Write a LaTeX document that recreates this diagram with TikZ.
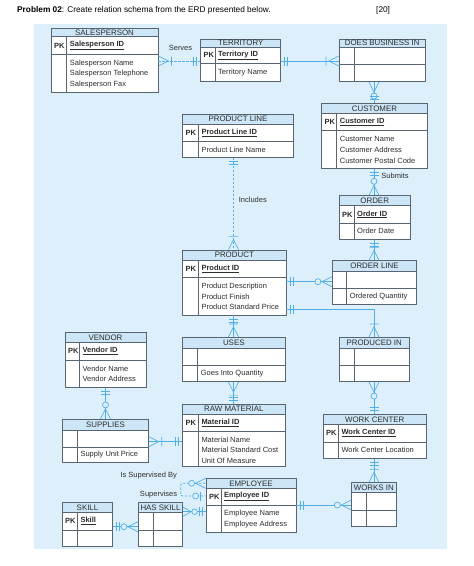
\documentclass[tikz,border=0pt]{standalone}
\usepackage{fontspec}
\setmainfont{Liberation Sans}
\usetikzlibrary{fit}
\definecolor{bgc}{RGB}{221,239,250}
\definecolor{hdrc}{RGB}{204,230,247}
\definecolor{bordc}{RGB}{88,100,112}
\definecolor{relc}{RGB}{80,175,230}
\definecolor{txtc}{RGB}{45,45,45}
\tikzset{
  rel/.style={draw=relc, line width=0.7pt},
  dsh/.style={dash pattern=on 2.5pt off 1.5pt},
  edgeline/.style={draw=bordc, line width=0.6pt},
  boxnode/.style={draw=bordc, line width=0.8pt, inner sep=0pt},
  txt/.style={text=txtc, inner sep=0pt, font=\fontsize{7.5}{10.6}\selectfont},
  ttl/.style={text=black, inner sep=0pt, anchor=west, font=\fontsize{8.3}{10}\selectfont},
  hd/.style={txt, anchor=center, font=\fontsize{7.9}{10}\selectfont},
  lft/.style={txt, anchor=west, align=left},
  pk/.style={txt, anchor=west, font=\fontsize{7.5}{10.6}\selectfont\bfseries},
  lbl/.style={txt},
  one/.pic={\draw[rel] (3.5,-4.5) -- (3.5,4.5) (6.5,-4.5) -- (6.5,4.5);},
  onemany/.pic={\draw[rel] (0,-5) -- (10,0) -- (0,5) (13,-4.5) -- (13,4.5);},
  zeromany/.pic={\draw[rel] (0,-5) -- (10,0) -- (0,5); \draw[rel, fill=bgc] (14,0) circle (3);},
  zeromanyS/.pic={\draw[rel] (0,-4.5) -- (8,0) -- (0,4.5); \draw[rel, fill=bgc] (11.5,0) circle (2.8);},
  zeroone/.pic={\draw[rel] (5,-4.5) -- (5,4.5); \draw[rel, fill=bgc] (10,0) circle (3);}
}
\newcommand{\frm}[8]{%
  \fill[white] (#2,#3) rectangle (#4,#5);
  \fill[hdrc] (#2,#3) rectangle (#4,#6);
  \draw[edgeline] (#2,#6) -- (#4,#6) (#2,#7) -- (#4,#7) (#8,#6) -- (#8,#5);
  \node[boxnode, fit={(#2,#3) (#4,#5)}] (#1) {};
}
\begin{document}
\begin{tikzpicture}[x=1pt,y=-1pt]
\useasboundingbox (0,0) rectangle (474,566);
\fill[bgc] (34,23.5) rectangle (446.7,549.3);
\node[ttl] (title) at (17,10) {\textbf{Problem 02}: Create relation schema from the ERD presented below.};
\node[ttl] (marks) at (376,10) {[20]};

% SALESPERSON
\frm{sp}{51}{28.3}{158}{92.3}{36.7}{54.3}{66.7}
\node[hd] (sp-h) at (104.5,32.5) {SALESPERSON};
\node[pk] (sp-pk) at (54,45.5) {PK};
\node[pk] (sp-id) at (69.7,45.5) {\underline{Salesperson ID}};
\node[lft] (sp-at) at (69.7,73.8) {Salesperson Name\\Salesperson Telephone\\Salesperson Fax};
% TERRITORY
\frm{ter}{200.7}{39}{280.7}{81.7}{47.3}{63.3}{215}
\node[hd] (ter-h) at (240.7,43.2) {TERRITORY};
\node[pk] (ter-pk) at (203.5,55.3) {PK};
\node[pk] (ter-id) at (218,55.3) {\underline{Territory ID}};
\node[lft] (ter-at) at (218,72.5) {Territory Name};
% DOES BUSINESS IN
\frm{dbi}{339.3}{39}{425}{81.7}{47.3}{64.3}{354}
\node[hd] (dbi-h) at (382.2,43.2) {DOES BUSINESS IN};
% CUSTOMER
\frm{cus}{321.7}{103.3}{427.3}{168.3}{113.3}{130.7}{336.7}
\node[hd] (cus-h) at (374.5,108.3) {CUSTOMER};
\node[pk] (cus-pk) at (324.5,122) {PK};
\node[pk] (cus-id) at (339.7,122) {\underline{Customer ID}};
\node[lft] (cus-at) at (339.7,150) {Customer Name\\Customer Address\\Customer Postal Code};
% PRODUCT LINE
\frm{pl}{182.7}{114}{293.3}{157.3}{124}{141.7}{198.3}
\node[hd] (pl-h) at (238,119) {PRODUCT LINE};
\node[pk] (pl-pk) at (185.5,132.8) {PK};
\node[pk] (pl-id) at (201.3,132.8) {\underline{Product Line ID}};
\node[lft] (pl-at) at (201.3,149.5) {Product Line Name};
% ORDER
\frm{ord}{339.3}{195.7}{410}{239.3}{205.7}{223.3}{354}
\node[hd] (ord-h) at (374.7,200.7) {ORDER};
\node[pk] (ord-pk) at (342,214.5) {PK};
\node[pk] (ord-id) at (357,214.5) {\underline{Order ID}};
\node[lft] (ord-at) at (357,231.3) {Order Date};
% PRODUCT
\frm{prd}{182.7}{250}{286}{315}{260}{277.7}{198.3}
\node[hd] (prd-h) at (234.3,255) {PRODUCT};
\node[pk] (prd-pk) at (185.5,268.8) {PK};
\node[pk] (prd-id) at (201.3,268.8) {\underline{Product ID}};
\node[lft] (prd-at) at (201.3,296.5) {Product Description\\Product Finish\\Product Standard Price};
% ORDER LINE
\frm{ol}{332.3}{260.7}{416.7}{304.3}{271.3}{288.3}{346.7}
\node[hd] (ol-h) at (374.5,266) {ORDER LINE};
\node[lft] (ol-at) at (349.7,296.3) {Ordered Quantity};
% VENDOR
\frm{ven}{65}{332.3}{146}{387.3}{342.3}{360}{79.3}
\node[hd] (ven-h) at (105.5,337.3) {VENDOR};
\node[pk] (ven-pk) at (67.8,351.2) {PK};
\node[pk] (ven-id) at (82.3,351.2) {\underline{Vendor ID}};
\node[lft] (ven-at) at (82.3,373.8) {Vendor Name\\Vendor Address};
% USES
\frm{uses}{182.7}{337.3}{285}{381.7}{348.3}{365.7}{197.7}
\node[hd] (uses-h) at (233.8,342.8) {USES};
\node[lft] (uses-at) at (200.7,373.7) {Goes Into Quantity};
% PRODUCED IN
\frm{pin}{339}{337.3}{409.3}{381.7}{348.3}{365.7}{354.3}
\node[hd] (pin-h) at (374.2,342.8) {PRODUCED IN};
% SUPPLIES
\frm{sup}{62.7}{419.3}{148.3}{462.7}{430}{447.3}{77.3}
\node[hd] (sup-h) at (105.5,424.7) {SUPPLIES};
\node[lft] (sup-at) at (80.3,455) {Supply Unit Price};
% RAW MATERIAL
\frm{raw}{182.7}{404}{285}{466.7}{414}{431.7}{198.3}
\node[hd] (raw-h) at (233.8,409) {RAW MATERIAL};
\node[pk] (raw-pk) at (185.5,422.8) {PK};
\node[pk] (raw-id) at (201.3,422.8) {\underline{Material ID}};
\node[lft] (raw-at) at (201.3,450.3) {Material Name\\Material Standard Cost\\Unit Of Measure};
% WORK CENTER
\frm{wc}{323.3}{414.3}{426}{458.3}{424.3}{442.3}{338.3}
\node[hd] (wc-h) at (374.7,419.3) {WORK CENTER};
\node[pk] (wc-pk) at (326,433.3) {PK};
\node[pk] (wc-id) at (341.3,433.3) {\underline{Work Center ID}};
\node[lft] (wc-at) at (341.3,450.3) {Work Center Location};
% EMPLOYEE
\frm{emp}{206}{478.3}{296}{532.7}{488.3}{505}{221}
\node[hd] (emp-h) at (251,483.3) {EMPLOYEE};
\node[pk] (emp-pk) at (208.8,496.7) {PK};
\node[pk] (emp-id) at (224,496.7) {\underline{Employee ID}};
\node[lft] (emp-at) at (224,519.2) {Employee Name\\Employee Address};
% WORKS IN
\frm{wi}{351.7}{482.7}{396}{526.7}{492.7}{510}{366.7}
\node[hd] (wi-h) at (373.8,487.7) {WORKS IN};
% SKILL
\frm{skl}{62.3}{502.3}{112.7}{546}{512.3}{530}{77.3}
\node[hd] (skl-h) at (87.5,507.3) {SKILL};
\node[pk] (skl-pk) at (65,521.2) {PK};
\node[pk] (skl-id) at (80.3,521.2) {\underline{Skill}};
% HAS SKILL
\frm{hs}{138.3}{502.3}{182.7}{546}{512.3}{530}{153.3}
\node[hd] (hs-h) at (160.5,507.3) {HAS SKILL};

% helper coordinates
\coordinate (colR) at (374,0);
\coordinate (colL) at (233.5,0);
\coordinate (colV) at (105.5,0);
\coordinate (rTer) at (0,61);
\coordinate (rOl) at (0,281.7);
\coordinate (rPin) at (0,309.3);
\coordinate (rSup) at (0,441.7);
\coordinate (rWi) at (0,505);
\coordinate (rHs) at (0,511.7);
\coordinate (rSk) at (0,526.7);
\coordinate (supU) at (0,483.3);
\coordinate (supL) at (0,496);
\coordinate (supC) at (180.7,0);

% relationships
\draw[rel,dsh] (sp.east |- rTer) -- (ter.west |- rTer);
\pic at (sp.east |- rTer) {onemany};
\pic[rotate=180] at (ter.west |- rTer) {one};
\node[lbl] (serves) at (180.5,47.5) {Serves};

\draw[rel] (ter.east |- rTer) -- (dbi.west |- rTer);
\pic at (ter.east |- rTer) {one};
\pic[rotate=180] at (dbi.west |- rTer) {onemany};

\draw[rel] (dbi.south -| colR) -- (cus.north -| colR);
\pic[rotate=-90] at (dbi.south -| colR) {zeromany};
\pic[rotate=90] at (cus.north -| colR) {one};

\draw[rel] (cus.south -| colR) -- (ord.north -| colR);
\pic[rotate=-90] at (cus.south -| colR) {one};
\pic[rotate=90] at (ord.north -| colR) {zeromany};
\node[lbl] (submits) at (395,176) {Submits};

\draw[rel,dsh] (pl.south -| colL) -- (prd.north -| colL);
\pic[rotate=-90] at (pl.south -| colL) {one};
\pic[rotate=90] at (prd.north -| colL) {onemany};
\node[lbl] (includes) at (252.8,200) {Includes};

\draw[rel] (ord.south -| colR) -- (ol.north -| colR);
\pic[rotate=-90] at (ord.south -| colR) {one};
\pic[rotate=90] at (ol.north -| colR) {onemany};

\draw[rel] (prd.east |- rOl) -- (ol.west |- rOl);
\pic at (prd.east |- rOl) {one};
\pic[rotate=180] at (ol.west |- rOl) {zeromany};

\draw[rel] (prd.east |- rPin) -| (pin.north -| colR);
\pic at (prd.east |- rPin) {one};
\pic[rotate=90] at (pin.north -| colR) {onemany};

\draw[rel] (prd.south -| colL) -- (uses.north -| colL);
\pic[rotate=-90] at (prd.south -| colL) {one};
\pic[rotate=90] at (uses.north -| colL) {onemany};

\draw[rel] (uses.south -| colL) -- (raw.north -| colL);
\pic[rotate=-90] at (uses.south -| colL) {onemany};
\pic[rotate=90] at (raw.north -| colL) {one};

\draw[rel] (pin.south -| colR) -- (wc.north -| colR);
\pic[rotate=-90] at (pin.south -| colR) {zeromany};
\pic[rotate=90] at (wc.north -| colR) {one};

\draw[rel] (ven.south -| colV) -- (sup.north -| colV);
\pic[rotate=-90] at (ven.south -| colV) {one};
\pic[rotate=90] at (sup.north -| colV) {zeromany};

\draw[rel] (sup.east |- rSup) -- (raw.west |- rSup);
\pic at (sup.east |- rSup) {onemany};
\pic[rotate=180] at (raw.west |- rSup) {one};

\draw[rel] (wc.south -| colR) -- (wi.north -| colR);
\pic[rotate=-90] at (wc.south -| colR) {one};
\pic[rotate=90] at (wi.north -| colR) {onemany};

\draw[rel] (emp.east |- rWi) -- (wi.west |- rWi);
\pic at (emp.east |- rWi) {one};
\pic[rotate=180] at (wi.west |- rWi) {zeromany};

\draw[rel,dsh,rounded corners=2pt] (emp.west |- supU) -- (supC |- supU) -- (supC |- supL) -- (emp.west |- supL);
\pic[rotate=180] at (emp.west |- supU) {zeromany};
\pic[rotate=180] at (emp.west |- supL) {zeroone};
\node[lbl, anchor=east] (isup) at (177,476) {Is Supervised By};
\node[lbl, anchor=east] (sups) at (177.3,495) {Supervises};

\draw[rel] (hs.east |- rHs) -- (emp.west |- rHs);
\pic at (hs.east |- rHs) {zeromanyS};
\pic[rotate=180] at (emp.west |- rHs) {one};

\draw[rel] (skl.east |- rSk) -- (hs.west |- rSk);
\pic at (skl.east |- rSk) {one};
\pic[rotate=180] at (hs.west |- rSk) {zeromany};
\end{tikzpicture}
\end{document}
